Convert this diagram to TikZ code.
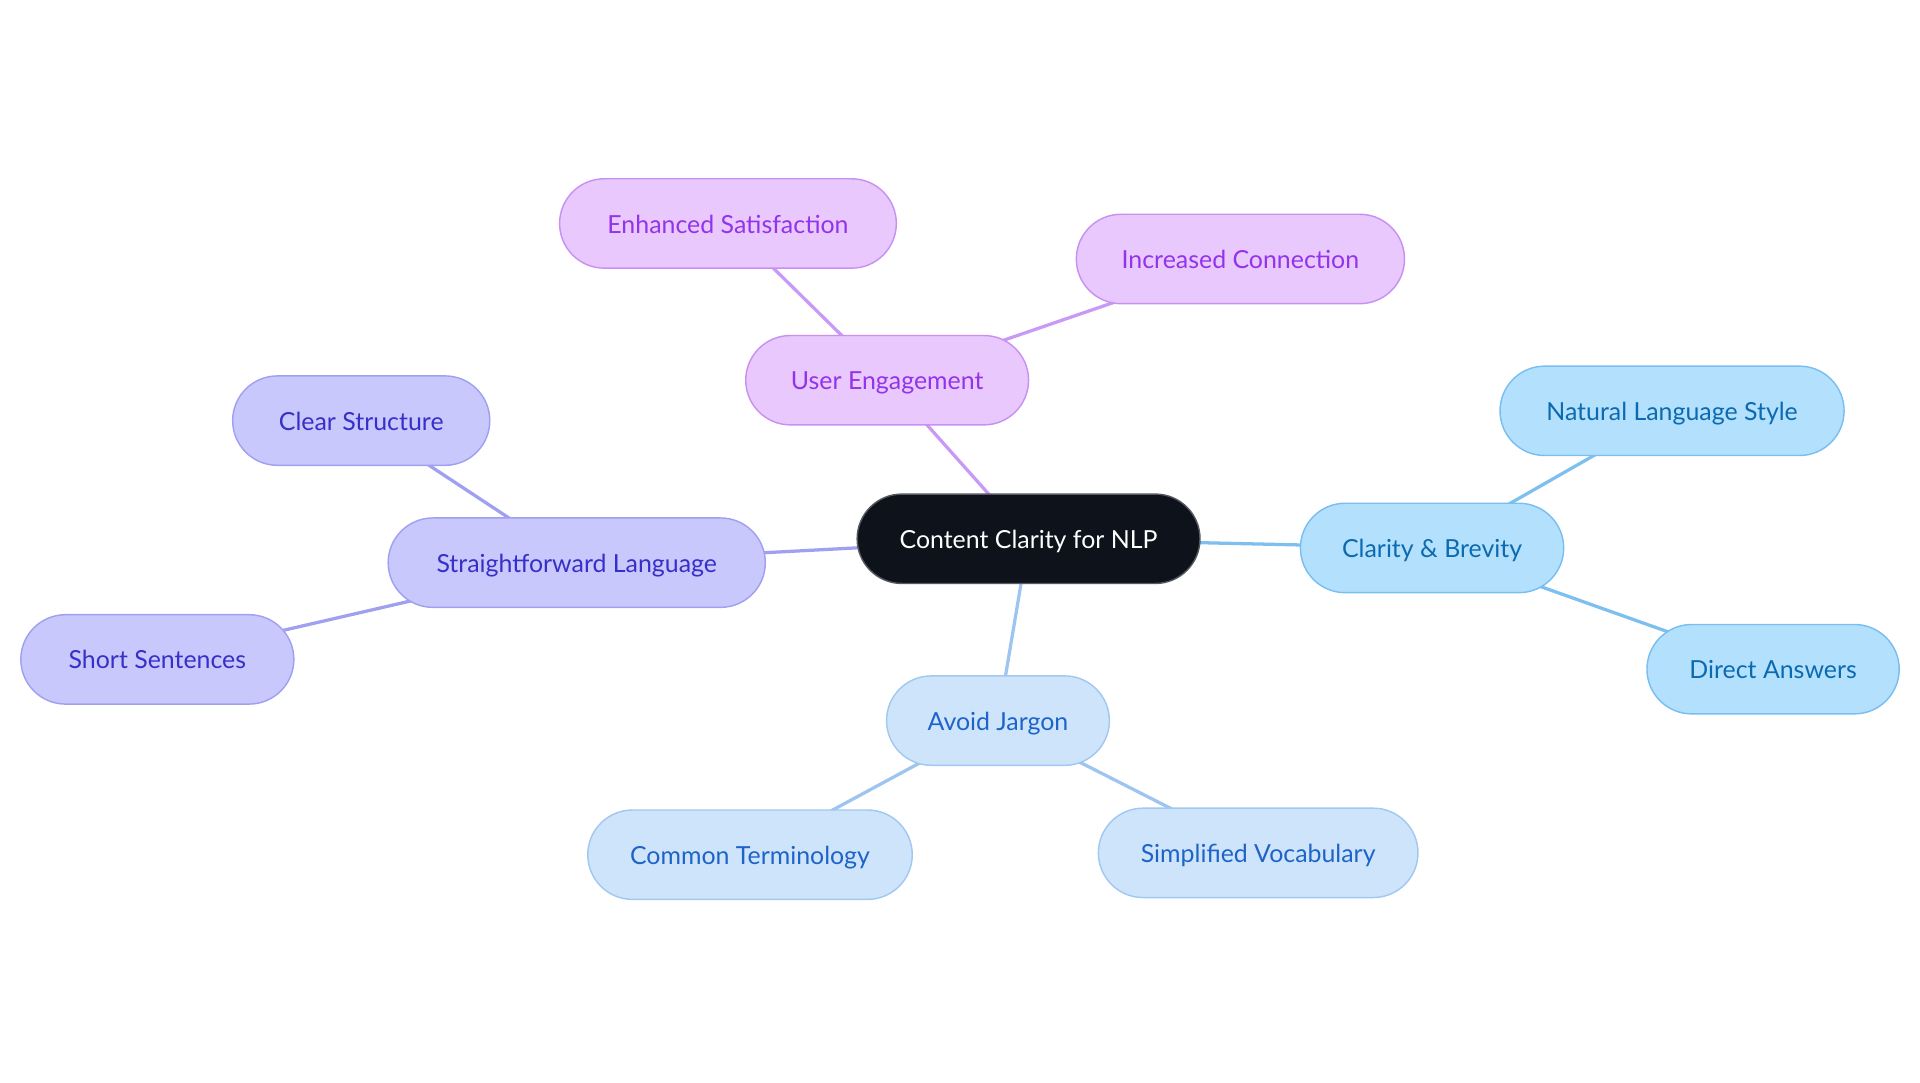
\documentclass[tikz,border=0pt]{standalone}
\usepackage{fontspec}
\setmainfont{Lato}
\usetikzlibrary{backgrounds}
\definecolor{pfill}{HTML}{E8C8FD}\definecolor{pline}{HTML}{C890F0}\definecolor{ptext}{HTML}{9333EA}\definecolor{pedge}{HTML}{C99AF5}
\definecolor{ifill}{HTML}{C8C8FD}\definecolor{iline}{HTML}{A0A0F0}\definecolor{itext}{HTML}{3730C8}\definecolor{iedge}{HTML}{A0A0F0}
\definecolor{sfill}{HTML}{B3E0FD}\definecolor{sline}{HTML}{78BEF0}\definecolor{stext}{HTML}{0C6AB0}\definecolor{sedge}{HTML}{7DC0F0}
\definecolor{lfill}{HTML}{CEE4FB}\definecolor{lline}{HTML}{A0C8F0}\definecolor{ltext}{HTML}{1E64C8}\definecolor{ledge}{HTML}{9EC5F0}
\definecolor{cfill}{HTML}{0D121B}\definecolor{cline}{HTML}{555A60}
\begin{document}
\begin{tikzpicture}[x=0.6pt,y=-0.6pt,
  pill/.style={rectangle,rounded corners=21.9pt,minimum height=43.8pt,inner sep=0pt,text height=10pt,text depth=0.6pt,line width=0.7pt,font=\fontsize{12.2}{14}\selectfont},
  pnode/.style={pill,fill=pfill,draw=pline,text=ptext},
  inode/.style={pill,fill=ifill,draw=iline,text=itext},
  snode/.style={pill,fill=sfill,draw=sline,text=stext},
  lnode/.style={pill,fill=lfill,draw=lline,text=ltext},
  cnode/.style={pill,fill=cfill,draw=cline,text=white},
  edge/.style={line width=1.6pt}]
\useasboundingbox (0,0) rectangle (1568,884.4);
\node[cnode,minimum width=168pt] (c) at (840,440) {Content Clarity for NLP};
\node[pnode,minimum width=138.6pt] (ue) at (724.5,310.5) {User Engagement};
\node[pnode,minimum width=165pt] (es) at (594.5,182.5) {Enhanced Satisfaction};
\node[pnode,minimum width=160.8pt] (ic) at (1013,211.5) {Increased Connection};
\node[inode,minimum width=184.8pt] (sl) at (471,459.5) {Straightforward Language};
\node[inode,minimum width=126pt] (cs) at (295,343.5) {Clear Structure};
\node[inode,minimum width=133.8pt] (ss) at (128.5,538.5) {Short Sentences};
\node[snode,minimum width=129pt] (cb) at (1169.5,447.5) {Clarity \& Brevity};
\node[snode,minimum width=168.6pt] (nls) at (1365.5,335.5) {Natural Language Style};
\node[snode,minimum width=123.6pt] (da) at (1448,546.5) {Direct Answers};
\node[lnode,minimum width=109.2pt] (aj) at (815,588.5) {Avoid Jargon};
\node[lnode,minimum width=159pt] (ct) at (612.5,698) {Common Terminology};
\node[lnode,minimum width=156.6pt] (sv) at (1027.5,696.5) {Simplified Vocabulary};
\begin{scope}[on background layer]
\draw[edge,pedge] (c.center) -- (ue.center);
\draw[edge,pedge] (ue.center) -- (es.center);
\draw[edge,pedge] (ue.center) -- (ic.center);
\draw[edge,iedge] (c.center) -- (sl.center);
\draw[edge,iedge] (sl.center) -- (cs.center);
\draw[edge,iedge] (sl.center) -- (ss.center);
\draw[edge,sedge] (c.center) -- (cb.center);
\draw[edge,sedge] (cb.center) -- (nls.center);
\draw[edge,sedge] (cb.center) -- (da.center);
\draw[edge,ledge] (c.center) -- (aj.center);
\draw[edge,ledge] (aj.center) -- (ct.center);
\draw[edge,ledge] (aj.center) -- (sv.center);
\end{scope}
\end{tikzpicture}
\end{document}
